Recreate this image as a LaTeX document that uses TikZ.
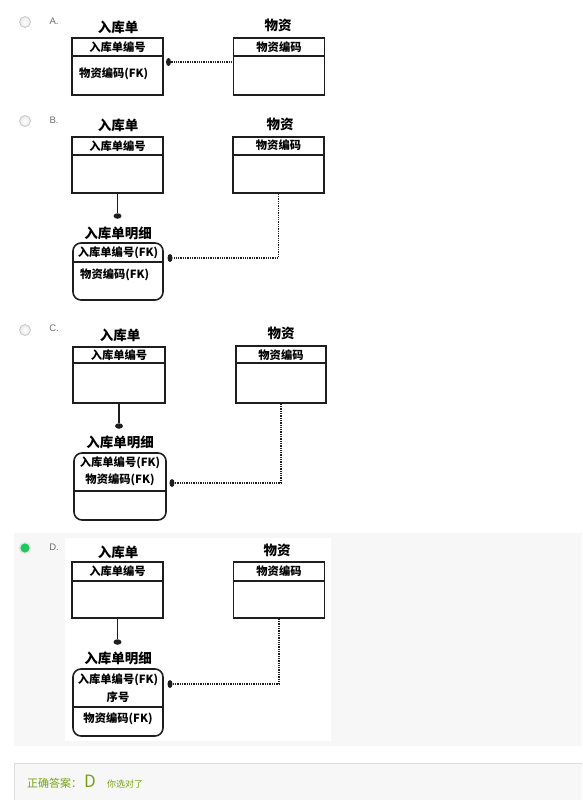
\documentclass[tikz,border=0pt]{standalone}
\usepackage{fontspec}
\newfontfamily\cjk{Noto Sans CJK SC}
\newfontfamily\optfont{Liberation Sans}
\usetikzlibrary{shapes.geometric, positioning, calc}
\definecolor{linegray}{HTML}{1E1E1E}
\definecolor{panelgray}{HTML}{F7F7F7}
\definecolor{rulegray}{HTML}{DDDDDD}
\definecolor{radiogray}{HTML}{C8C8C8}
\definecolor{okgreen}{HTML}{74A31A}
\definecolor{dotgreen}{HTML}{1EC85A}

\begin{document}
\begin{tikzpicture}[x=1pt, y=-1pt, table/.style={draw=linegray, line width=1.6pt, rectangle, minimum width=91pt, minimum height=57pt, inner sep=0pt}, detail/.style={table, rounded corners=8pt}, title/.style={font=\cjk\bfseries\fontsize{13.5}{15}\selectfont, inner sep=0pt}, key/.style={font=\cjk\bfseries\fontsize{11.3}{13}\selectfont, inner sep=0pt}, optlabel/.style={font=\optfont\fontsize{9.5}{10}\selectfont, text=gray!85!black, inner sep=0pt}, radio/.style={circle, draw=radiogray, inner color=white, outer color=gray!18, line width=0.8pt, minimum size=11pt, inner sep=0pt}, footdot/.style={ellipse, fill=linegray, inner sep=0pt, minimum width=8pt, minimum height=5.5pt}, sidedot/.style={ellipse, fill=linegray, inner sep=0pt, minimum width=5pt, minimum height=8pt}, rel/.style={linegray, line width=1.4pt, dash pattern=on 1.3pt off 1pt}, ident/.style={linegray, line width=1.6pt}]
\useasboundingbox (0,0) rectangle (582,800);
% option D panel
\fill[panelgray] (14,533) rectangle (582,746);
\fill[white] (65,538) rectangle (331,741);
% A
\node[radio] (rA) at (25,22) {};
\node[optlabel] (lA) at (54,21) {A.};
\node[title] (tA1) at (118,27) {入库单};
\node[title] (tA2) at (278,25) {物资};
\node[table] (A1) at (117.5,66.5) {};
\node[table] (A2) at (279,66.5) {};
\draw[ident] ($(A1.north west)+(0,19)$) -- ($(A1.north east)+(0,19)$);
\draw[ident] ($(A2.north west)+(0,19)$) -- ($(A2.north east)+(0,19)$);
\node[key] (kA1) at ($(A1.north)+(0,9.5)$) {入库单编号};
\node[key] (kA2) at ($(A2.north)+(0,9.5)$) {物资编码};
\node[key, anchor=west] (fA1) at (79,74) {物资编码(FK)};
\node[sidedot] (dA) at (168.5,62) {};
\draw[rel] (dA) -- (dA -| A2.west);
% B
\node[radio] (rB) at (25,121) {};
\node[optlabel] (lB) at (54,120) {B.};
\node[title] (tB1) at (118,125) {入库单};
\node[title] (tB2) at (280,124) {物资};
\node[table, minimum height=56pt] (B1) at (117.5,165) {};
\node[table, minimum height=56pt] (B2) at (278.5,165) {};
\draw[ident] ($(B1.north west)+(0,19)$) -- ($(B1.north east)+(0,19)$);
\draw[ident] ($(B2.north west)+(0,18.5)$) -- ($(B2.north east)+(0,18.5)$);
\node[key] (kB1) at ($(B1.north)+(0,9.5)$) {入库单编号};
\node[key] (kB2) at ($(B2.north)+(0,9)$) {物资编码};
\node[footdot] (fB) at (117.5,216) {};
\draw[ident] (B1.south) -- (fB);
\node[title] (tB3) at (118,233) {入库单明细};
\node[detail, minimum width=90pt] (B3) at (118,271.5) {};
\draw[ident] ($(B3.north west)+(0,20)$) -- ($(B3.north east)+(0,20)$);
\node[key] (kB3) at ($(B3.north)+(0,10.5)$) {入库单编号(FK)};
\node[key, anchor=west] (fB3) at (80,275) {物资编码(FK)};
\node[sidedot] (dB) at (170,258) {};
\draw[rel] (B2.south) |- (dB);
% C
\node[radio] (rC) at (25,330) {};
\node[optlabel] (lC) at (54,328) {C.};
\node[title] (tC1) at (120,335) {入库单};
\node[title] (tC2) at (281,333) {物资};
\node[table, minimum width=92pt, minimum height=56pt] (C1) at (119,375) {};
\node[table, minimum width=90pt, minimum height=57pt] (C2) at (281,374.5) {};
\draw[ident] ($(C1.north west)+(0,17)$) -- ($(C1.north east)+(0,17)$);
\draw[ident] ($(C2.north west)+(0,18)$) -- ($(C2.north east)+(0,18)$);
\node[key] (kC1) at ($(C1.north)+(0,9)$) {入库单编号};
\node[key] (kC2) at ($(C2.north)+(0,9.5)$) {物资编码};
\node[footdot] (fC) at (119,426) {};
\draw[ident] (C1.south) -- (fC);
\node[title] (tC3) at (120,442) {入库单明细};
\node[detail, minimum width=92pt, minimum height=67pt] (C3) at (120,486.5) {};
\draw[ident] ($(C3.north west)+(0,39)$) -- ($(C3.north east)+(0,39)$);
\node[key] (kC3) at (120,463) {入库单编号(FK)};
\node[key] (gC3) at (120,480) {物资编码(FK)};
\node[sidedot] (dC) at (172,483) {};
\draw[rel] (C2.south) |- (dC);
% D
\node[radio, draw=gray!20, line width=1.5pt, inner color=dotgreen, outer color=dotgreen] (rD) at (25,548) {};
\node[optlabel] (lD) at (54,547) {D.};
\node[title] (tD1) at (118,552) {入库单};
\node[title] (tD2) at (277,550) {物资};
\node[table, minimum height=56pt] (D1) at (117.5,590) {};
\node[table, minimum height=56pt] (D2) at (279,590) {};
\draw[ident] ($(D1.north west)+(0,20)$) -- ($(D1.north east)+(0,20)$);
\draw[ident] ($(D2.north west)+(0,20)$) -- ($(D2.north east)+(0,20)$);
\node[key] (kD1) at ($(D1.north)+(0,10)$) {入库单编号};
\node[key] (kD2) at ($(D2.north)+(0,9.5)$) {物资编码};
\node[footdot] (fD) at (117.5,642) {};
\draw[ident] (D1.south) -- (fD);
\node[title] (tD3) at (118,658) {入库单明细};
\node[detail, minimum width=90pt, minimum height=67pt] (D3) at (118,702.5) {};
\draw[ident] ($(D3.north west)+(0,39)$) -- ($(D3.north east)+(0,39)$);
\node[key] (kD3) at (118,680) {入库单编号(FK)};
\node[key] (sD3) at (118,697) {序号};
\node[key] (gD3) at (118,719) {物资编码(FK)};
\node[sidedot] (dD) at (170,684) {};
\draw[rel] (D2.south) |- (dD);
% answer
\fill[panelgray] (14,763) rectangle (582,800);
\draw[rulegray, line width=1pt] (14,800) -- (14,763) -- (582,763);
\node[anchor=west, inner sep=0pt, text=okgreen, font=\cjk\fontsize{11}{13}\selectfont] (ans) at (27,783) {正确答案：};
\node[anchor=west, inner sep=0pt, text=okgreen, font=\cjk\fontsize{17}{19}\selectfont] (ansD) at (84,781) {D};
\node[anchor=west, inner sep=0pt, text=okgreen, font=\cjk\fontsize{9}{11}\selectfont] (ok) at (107,784) {你选对了};
\end{tikzpicture}
\end{document}
